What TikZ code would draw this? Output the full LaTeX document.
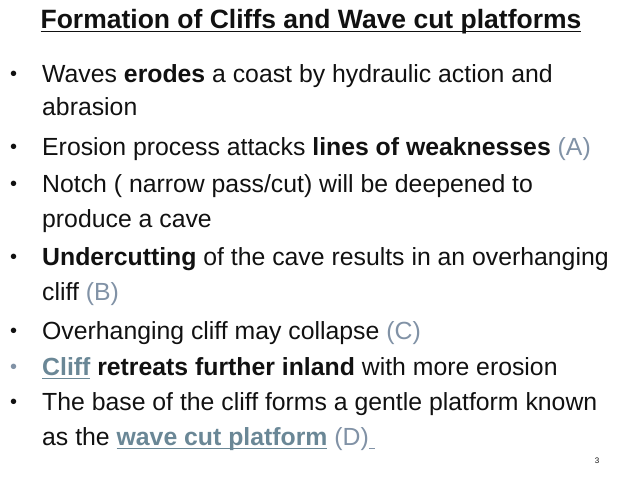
\documentclass[tikz,border=0pt]{standalone}
\usepackage{fontspec}
\setmainfont{Liberation Sans}
\newcommand{\myul}[1]{\setbox0\hbox{#1}\rlap{\rule[-3pt]{\wd0}{1.3pt}}\box0}
\definecolor{lbl}{HTML}{8192A6}
\definecolor{lnk}{HTML}{6A8796}
\definecolor{txt}{HTML}{111111}
\begin{document}
\begin{tikzpicture}[x=1pt,y=-1pt,
  ln/.style={anchor=base west,inner sep=0pt,font=\fontsize{24.8}{28}\selectfont,text=txt},
  bul/.style={anchor=base west,inner sep=0pt,font=\fontsize{20}{24}\selectfont,text=txt}]
\useasboundingbox (0,0) rectangle (638,478);
\node[anchor=base,inner sep=0pt,font=\fontsize{26.5}{30}\selectfont\bfseries,text=txt] (title) at (311,29) {\myul{Formation of Cliffs and Wave cut platforms}};
\node[bul] (b1) at (10,81) {•};
\node[ln] (l1) at (42,83) {Waves \textbf{erodes} a coast by hydraulic action and};
\node[ln] (l2) at (42,116) {abrasion};
\node[bul] (b2) at (10,154) {•};
\node[ln] (l3) at (42,156) {Erosion process attacks \textbf{lines of weaknesses} \textcolor{lbl}{(A)}};
\node[bul] (b3) at (10,191) {•};
\node[ln] (l4) at (42,193) {Notch ( narrow pass/cut) will be deepened to};
\node[ln] (l5) at (42,228) {produce a cave};
\node[bul] (b4) at (10,264) {•};
\node[ln] (l6) at (42,266) {\textbf{Undercutting} of the cave results in an overhanging};
\node[ln] (l7) at (42,301) {cliff \textcolor{lbl}{(B)}};
\node[bul] (b5) at (10,338) {•};
\node[ln] (l8) at (42,340) {Overhanging cliff may collapse \textcolor{lbl}{(C)}};
\node[bul,text=lbl] (b6) at (10,374) {•};
\node[ln] (l9) at (42,376) {\textcolor{lnk}{\textbf{\myul{Cliff}}} \textbf{retreats further inland} with more erosion};
\node[bul] (b7) at (10,409) {•};
\node[ln] (l10) at (42,411) {The base of the cliff forms a gentle platform known};
\node[ln] (l11) at (42,446) {as the \textcolor{lnk}{\textbf{\myul{wave cut platform}}} \textcolor{lbl}{(D)\myul{\hspace{6pt}}}};
\node[anchor=base,inner sep=0pt,font=\fontsize{8}{9}\selectfont,text=txt] (pg) at (597,464) {3};
\end{tikzpicture}
\end{document}
